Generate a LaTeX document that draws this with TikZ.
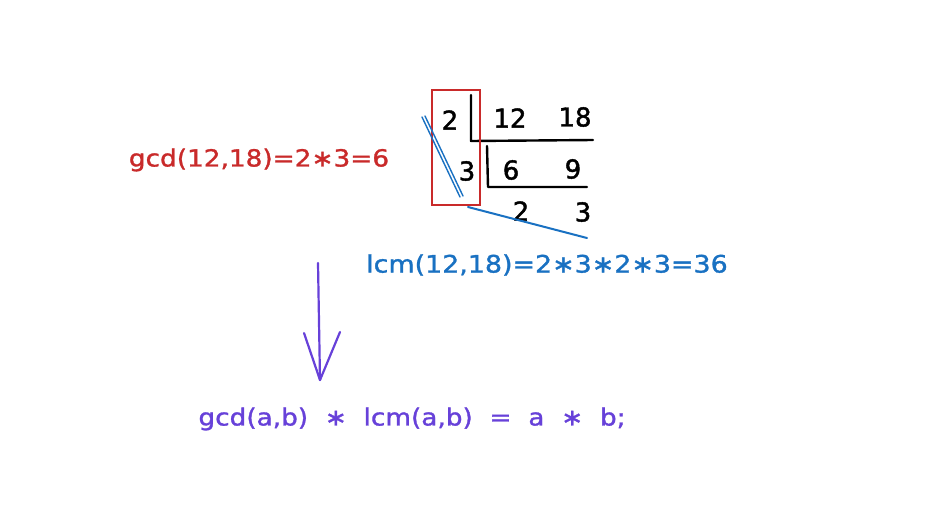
\documentclass[tikz,border=0pt]{standalone}
\usepackage{fontspec}
\setmainfont{DejaVu Sans}
\newfontfamily\handfont[FakeStretch=1.12,FakeBold=1.3]{DejaVu Sans}
\newfontfamily\numfont[FakeBold=1.6]{DejaVu Sans}
\definecolor{exred}{HTML}{C92A2A}
\definecolor{exblue}{HTML}{1971C2}
\definecolor{exviolet}{HTML}{6741D9}
\tikzset{
  num/.style={inner sep=0pt, font=\numfont\fontsize{26}{26}\selectfont, text=black},
  hand/.style={inner sep=0pt, font=\handfont\fontsize{23.5}{24}\selectfont},
  rule/.style={line width=2.4pt, black, line cap=round, line join=round},
  blueline/.style={line width=2pt, exblue, line cap=round},
}
\begin{document}
\begin{tikzpicture}[x=1pt,y=-1pt]
\fill[white] (0,0) rectangle (936,517);
\useasboundingbox (0,0) rectangle (936,517);

% division numbers
\node[num] (d1) at (450,120) {2};
\node[num] (n12) at (510,118) {12};
\node[num] (n18) at (575,117) {18};
\node[num] (d2) at (467,171) {3};
\node[num] (n6) at (511,170) {6};
\node[num] (n9) at (573,169) {9};
\node[num] (q2) at (521,211) {2};
\node[num] (q3) at (583,212) {3};

% division rules
\coordinate (b1t) at (471,95);
\coordinate (b1b) at (471,141);
\coordinate (h1e) at (593,140);
\draw[rule] (b1t) -- (b1b) -- (h1e);
\coordinate (b2t) at (487,146);
\coordinate (b2b) at (488,187);
\coordinate (h2e) at (587,187);
\draw[rule] (b2t) -- (b2b) -- (h2e);

% red box around divisors
\coordinate (rbA) at (432,90);
\coordinate (rbB) at (480,205);
\draw[exred, line width=1.9pt] (rbA) rectangle (rbB);

% blue strokes
\coordinate (s1a) at (422,117);
\coordinate (s1b) at (460,197);
\coordinate (s2a) at (425,116);
\coordinate (s2b) at (463,196);
\draw[blueline, line width=1.4pt] (s1a) -- (s1b);
\draw[blueline, line width=1.4pt] (s2a) -- (s2b);
\coordinate (u1) at (468,207);
\coordinate (u2) at (587,238);
\draw[blueline] (u1) -- (u2);

% texts
\node[hand, text=exred] (gcd) at (259,160) {gcd(12,18)=2∗3=6};
\node[hand, text=exblue, font=\handfont\fontsize{24}{24}\selectfont] (lcm) at (547,265) {lcm(12,18)=2∗3∗2∗3=36};
\node[hand, text=exviolet] (eq) at (412,419) {gcd(a,b)\ \ ∗\ \ lcm(a,b)\ \ =\ \ a\ \ ∗\ \ b;};

% arrow
\coordinate (atop) at (318,263);
\coordinate (atip) at (320,380);
\coordinate (hl) at (304,333);
\coordinate (hr) at (340,332);
\draw[exviolet, line width=2.2pt, line cap=round, line join=round] (atop) -- (atip);
\draw[exviolet, line width=2.2pt, line cap=round, line join=round] (hl) -- (atip) -- (hr);
\end{tikzpicture}
\end{document}
